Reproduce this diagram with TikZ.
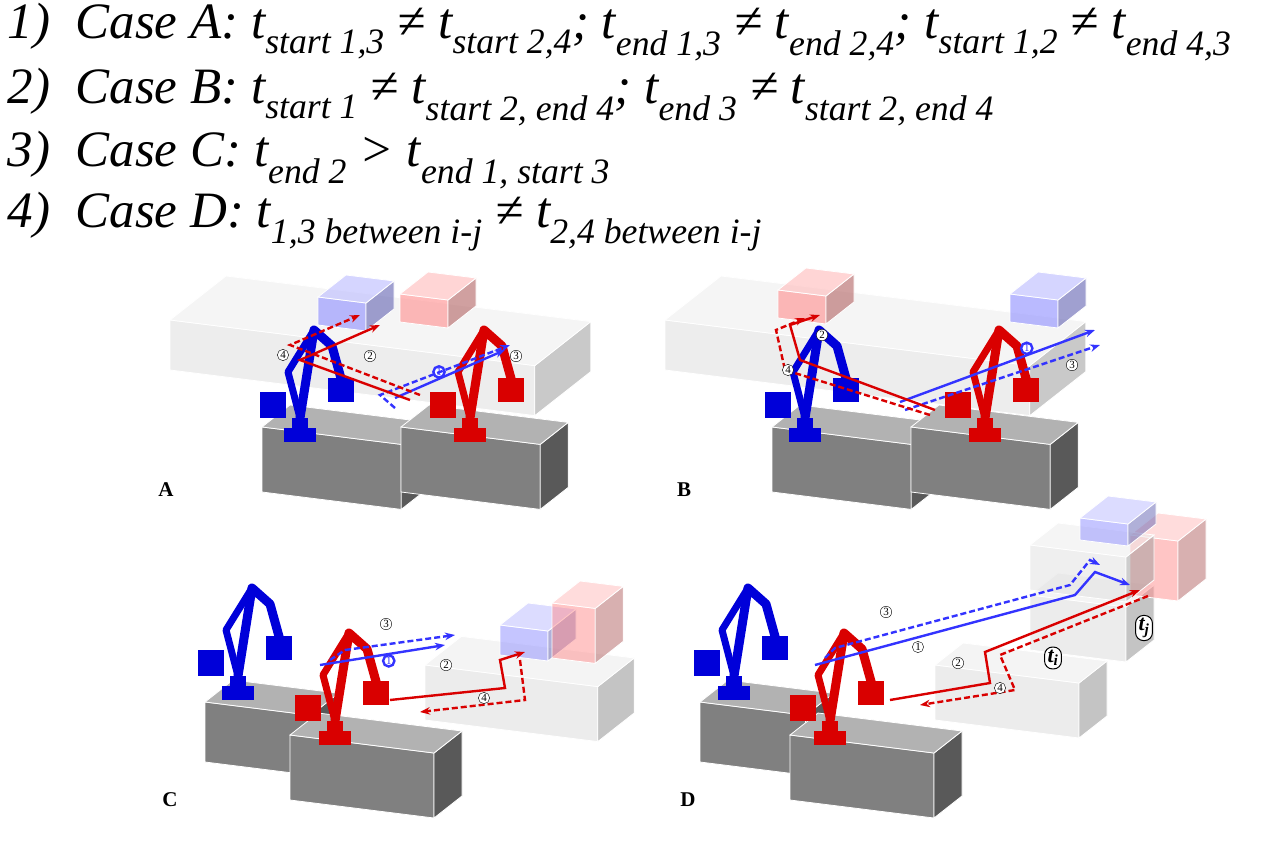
\documentclass[tikz,border=0pt]{standalone}
\usepackage{fontspec}
\setmainfont{Liberation Serif}
\usetikzlibrary{arrows.meta}
\newcommand\bx[7]{%
\colorlet{bxf}{#6}\colorlet{bxs}{bxf!70!black}\colorlet{bxt}{bxf!60!white}%
\begin{scope}[shift={(#1,#2)},fill opacity=#7,draw=white,line width=0.8pt]
\filldraw[fill=bxf] (0,0)--({48*#3},{6*#3})--({48*#3},{6*#3-#5})--(0,{-#5})--cycle;
\filldraw[fill=bxs] ({48*#3},{6*#3})--({48*#3+28*#4},{6*#3-22*#4})--({48*#3+28*#4},{6*#3-22*#4-#5})--({48*#3},{6*#3-#5})--cycle;
\filldraw[fill=bxt] (0,{-#5})--({48*#3},{6*#3-#5})--({48*#3+28*#4},{6*#3-22*#4-#5})--({28*#4},{-22*#4-#5})--cycle;
\end{scope}}
\newcommand\robot[3]{%
\begin{scope}[shift={(#1,#2)},#3,line cap=round,line join=round]
\fill (-16,0) rectangle (16,-14); \fill (-8,-14) rectangle (8,-24);
\draw[line width=9pt] (0,-24)--(14,-112)--(32,-96)--(42,-60);
\draw[line width=7pt] (0,-24)--(-12,-70)--(14,-112);
\fill (28,-64) rectangle (54,-40);
\fill (-40,-50) rectangle (-14,-24);
\end{scope}}
\tikzset{num/.style={circle,draw,fill=white,inner sep=0.8pt,font=\fontsize{11}{12}\selectfont},
 sb/.style={blue!80,line width=2.4pt,-{Stealth[length=10pt]}},
 db/.style={sb,dash pattern=on 6pt off 3pt},
 sr/.style={red!85!black,line width=2.4pt,-{Stealth[length=10pt]}},
 dr/.style={sr,dash pattern=on 6pt off 3pt},
 lab/.style={font=\fontsize{21}{22}\selectfont\bfseries},
 tt/.style={anchor=west,font=\fontsize{51}{53}\selectfont\itshape},
 tl/.style={draw,line width=1pt,rounded corners=8pt,fill=white,font=\fontsize{22}{24}\selectfont\bfseries\itshape,inner sep=3pt}}
\newcommand\s[1]{\textsubscript{#1}}
\begin{document}
\begin{tikzpicture}[x=1pt,y=-1pt]
\fill[white] (0,0) rectangle (1282,850);
\node[tt] (l1) at (4,32) {1)\enspace Case A: t\s{start 1,3} ≠ t\s{start 2,4}; t\s{end 1,3} ≠ t\s{end 2,4}; t\s{start 1,2} ≠ t\s{end 4,3}};
\node[tt] (l2) at (4,97) {2)\enspace Case B: t\s{start 1} ≠ t\s{start 2, end 4}; t\s{end 3} ≠ t\s{start 2, end 4}};
\node[tt] (l3) at (4,160) {3)\enspace Case C: t\s{end 2} > t\s{end 1, start 3}};
\node[tt] (l4) at (4,222) {4)\enspace Case D: t\s{1,3 between i-j} ≠ t\s{2,4 between i-j}};
% ---------- panel A
\bx{170}{370}{7.6}{2}{50}{black!12}{0.55}
\bx{318}{325}{1}{1}{28}{blue!45}{0.6}
\bx{400}{322}{1}{1}{28}{red!45}{0.6}
\bx{262}{492}{2.9}{1}{65}{black!50}{1}
\bx{401}{492}{2.9}{1}{65}{black!50}{1}
\robot{300}{442}{blue!85!black}
\robot{470}{442}{red!85!black}
\draw[sb] (395,398)--(505,350) node[num,pos=0.4,above] (na1) {1};
\draw[db] (395,408)--(380,395)--(510,345);
\node[num] (na3) at (516,356) {3};
\draw[sr] (410,400)--(300,360)--(380,325);
\node[num] (na2) at (370,356) {2};
\draw[dr] (420,395)--(290,345)--(360,315);
\node[num] (na4) at (283,355) {4};
\node[lab] (la) at (166,490) {A};
% ---------- panel B
\bx{665}{370}{7.6}{2}{50}{black!12}{0.55}
\bx{778}{318}{1}{1}{28}{red!45}{0.6}
\bx{1010}{322}{1}{1}{28}{blue!45}{0.6}
\bx{772}{492}{2.9}{1}{65}{black!50}{1}
\bx{911}{492}{2.9}{1}{65}{black!50}{1}
\robot{805}{442}{blue!85!black}
\robot{985}{442}{red!85!black}
\draw[sb] (900,402)--(1095,330) node[num,pos=0.65,above] (nb1) {1};
\draw[db] (905,410)--(1100,345);
\node[num] (nb3) at (1072,365) {3};
\draw[sr] (935,410)--(800,360)--(790,325)--(820,315);
\node[num] (nb2) at (822,335) {2};
\draw[dr] (930,415)--(785,370)--(776,330)--(805,318);
\node[num] (nb4) at (788,370) {4};
\node[lab] (lb) at (684,490) {B};
% ---------- panel C
\bx{425}{720}{3.6}{1.3}{55}{black!12}{0.6}
\bx{500}{655}{1}{1}{30}{blue!45}{0.5}
\bx{552}{658}{0.9}{1}{55}{red!45}{0.5}
\bx{205}{762}{2.2}{1}{60}{black!50}{1}
\bx{290}{800}{3}{1}{65}{black!50}{1}
\robot{238}{700}{blue!85!black}
\robot{335}{745}{red!85!black}
\draw[sb] (320,665)--(445,645) node[num,pos=0.55,below] (nc1) {1};
\draw[db] (330,660)--(345,650)--(455,635);
\node[num] (nc3) at (386,624) {3};
\draw[sr] (390,700)--(505,688)--(500,660)--(525,652);
\node[num] (nc2) at (446,665) {2};
\draw[dr] (520,660)--(525,700)--(420,712);
\node[num] (nc4) at (484,698) {4};
\node[lab] (lc) at (170,800) {C};
% ---------- panel D
\bx{935}{720}{3}{1}{55}{black!12}{0.6}
\bx{1030}{650}{2}{1}{55}{black!12}{0.6}
\bx{1130}{595}{1}{1}{60}{red!45}{0.5}
\bx{1030}{590}{2}{1}{45}{black!12}{0.5}
\bx{1080}{540}{1}{1}{22}{blue!45}{0.5}
\bx{700}{762}{2.2}{1}{60}{black!50}{1}
\bx{790}{800}{3}{1}{65}{black!50}{1}
\robot{734}{700}{blue!85!black}
\robot{830}{745}{red!85!black}
\draw[sb] (815,665)--(1075,595)--(1095,572)--(1130,585);
\node[num] (nd1) at (918,647) {1};
\draw[db] (825,658)--(835,648)--(1070,585)--(1090,560)--(1100,565);
\node[num] (nd3) at (886,612) {3};
\draw[sr] (890,700)--(990,683)--(985,652)--(1140,590);
\node[num] (nd2) at (958,663) {2};
\draw[dr] (1148,596)--(1000,655)--(1015,690)--(920,705);
\node[num] (nd4) at (1000,688) {4};
\node[tl] (ti) at (1053,658) {t\s{i}};
\node[tl] (tj) at (1144,628) {t\s{j}};
\node[lab] (ld) at (688,800) {D};
\end{tikzpicture}
\end{document}
